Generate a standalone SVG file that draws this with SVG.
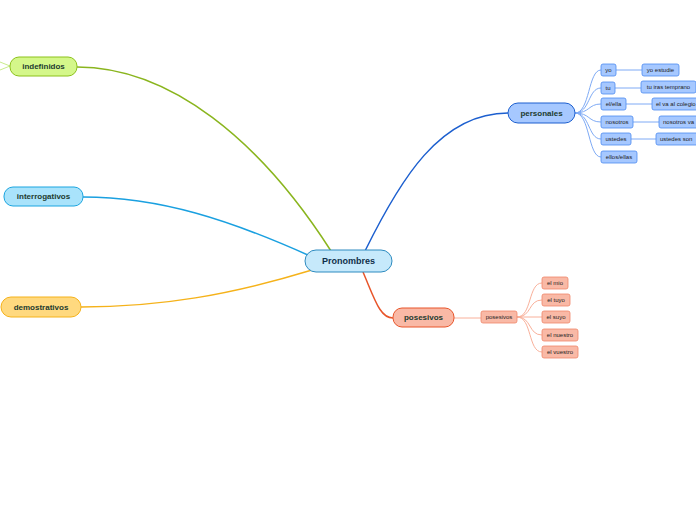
<svg xmlns="http://www.w3.org/2000/svg" width="696" height="520" viewBox="0 0 696 520">
<style>
text{font-family:"Liberation Sans",Arial,sans-serif;text-anchor:middle;dominant-baseline:central;fill:#222}
.m{font-size:8px;font-weight:bold;fill:#1d3b2f}
.s{font-size:6px}
.b{fill:#a6c8ff;stroke:#4d8af0;stroke-width:0.8}
.o{fill:#f9b9a6;stroke:#f0876a;stroke-width:0.8}
path{fill:none}
</style>
<rect width="696" height="520" fill="#fff"/>
<g id="connectors">
<path d="M365,251 C400,180 440,113 508,113" stroke="#1c5fcf" stroke-width="1.5"/>
<path d="M331,251 C260,140 170,67 77,67" stroke="#8ab51e" stroke-width="1.5"/>
<path d="M310,256 C230,220 160,197 83,197" stroke="#1aa0e0" stroke-width="1.5"/>
<path d="M312,270 C230,295 160,307 81,307" stroke="#f5b21a" stroke-width="1.5"/>
<path d="M363,272 C375,300 380,318 393,318" stroke="#e8552a" stroke-width="1.5"/>
<path d="M10,66 L0,62 M10,66 L0,70" stroke="#c8ec8a" stroke-width="1"/>
<g stroke="#7eaaf5" stroke-width="1">
<path d="M575,113 C590,113 588,70 601,70"/>
<path d="M575,113 C590,113 588,88 601,88"/>
<path d="M575,113 C590,113 588,104 601,104"/>
<path d="M575,113 C590,113 588,122 601,122"/>
<path d="M575,113 C590,113 588,139 601,139"/>
<path d="M575,113 C590,113 588,157 601,157"/>
<path d="M616,70 H642 M615,88 H641 M626,104 H652 M633,122 H659 M631,139 H656"/>
</g>
<g stroke="#f9b09a" stroke-width="1">
<path d="M454,318 H481"/>
<path d="M517,317 C532,317 528,283 542,283"/>
<path d="M517,317 C532,317 528,300 542,300"/>
<path d="M517,317 H542"/>
<path d="M517,317 C532,317 528,335 542,335"/>
<path d="M517,317 C532,317 528,352 542,352"/>
</g>
</g>
<g id="pronombres"><rect x="305" y="250" width="87" height="22" rx="11" fill="#c6e9fb" stroke="#2e8bc0"/><text x="348.5" y="261" style="font-size:9px;font-weight:bold;fill:#0f2f4a">Pronombres</text></g>
<g id="personales"><rect x="508" y="103" width="67" height="20" rx="10" fill="#a6c8ff" stroke="#1c5fcf"/><text class="m" x="541.5" y="113">personales</text></g>
<g id="posesivos"><rect x="393" y="308" width="61" height="19" rx="9" fill="#f9b9a6" stroke="#e8552a"/><text class="m" x="423.5" y="317.5">posesivos</text></g>
<g id="indefinidos"><rect x="10" y="57" width="67" height="19" rx="9" fill="#d4f78a" stroke="#8cc21b"/><text class="m" x="43.5" y="66.5">indefinidos</text></g>
<g id="interrogativos"><rect x="4" y="187" width="79" height="19" rx="9" fill="#a9e3fb" stroke="#1aa5e0"/><text class="m" x="43.5" y="196.5">interrogativos</text></g>
<g id="demostrativos"><rect x="1" y="297" width="80" height="20" rx="10" fill="#ffd97f" stroke="#f5b21a"/><text class="m" x="41" y="307">demostrativos</text></g>
<g id="yo"><rect class="b" x="601" y="64" width="15" height="12" rx="2"/><text class="s" x="608.5" y="70">yo</text></g>
<g id="tu"><rect class="b" x="601" y="82" width="14" height="12" rx="2"/><text class="s" x="608" y="88">tu</text></g>
<g id="elella"><rect class="b" x="601" y="98" width="25" height="12" rx="2"/><text class="s" x="613.5" y="104">el/ella</text></g>
<g id="nosotros"><rect class="b" x="601" y="116" width="32" height="12" rx="2"/><text class="s" x="617" y="122">nosotros</text></g>
<g id="ustedes"><rect class="b" x="601" y="133" width="30" height="12" rx="2"/><text class="s" x="616" y="139">ustedes</text></g>
<g id="ellos"><rect class="b" x="601" y="151" width="36" height="12" rx="2"/><text class="s" x="619" y="157">ellos/ellas</text></g>
<g id="yoestudie"><rect class="b" x="642" y="64" width="37" height="12" rx="2"/><text class="s" x="660.5" y="70">yo estudie</text></g>
<g id="tuiras"><rect class="b" x="641" y="81" width="55" height="12" rx="2"/><text class="s" x="668.5" y="87">tu iras temprano</text></g>
<g id="elva"><rect class="b" x="652" y="98" width="52" height="12" rx="2"/><text class="s" x="656" y="104" style="text-anchor:start">el va al colegio</text></g>
<g id="nosotrosva"><rect class="b" x="659" y="116" width="45" height="12" rx="2"/><text class="s" x="663" y="122" style="text-anchor:start">nosotros va</text></g>
<g id="ustedesson"><rect class="b" x="656" y="133" width="45" height="12" rx="2"/><text class="s" x="660" y="139" style="text-anchor:start">ustedes son</text></g>
<g id="posesivos2"><rect class="o" x="481" y="311" width="36" height="12" rx="2"/><text class="s" x="499" y="317">posesivos</text></g>
<g id="elmio"><rect class="o" x="542" y="277" width="26" height="12" rx="2"/><text class="s" x="555" y="283">el mio</text></g>
<g id="eltuyo"><rect class="o" x="542" y="294" width="28" height="12" rx="2"/><text class="s" x="556" y="300">el tuyo</text></g>
<g id="elsuyo"><rect class="o" x="542" y="311" width="28" height="12" rx="2"/><text class="s" x="556" y="317">el suyo</text></g>
<g id="elnuestro"><rect class="o" x="542" y="329" width="36" height="12" rx="2"/><text class="s" x="560" y="335">el nuestro</text></g>
<g id="elvuestro"><rect class="o" x="542" y="346" width="36" height="12" rx="2"/><text class="s" x="560" y="352">el vuestro</text></g>
</svg>
